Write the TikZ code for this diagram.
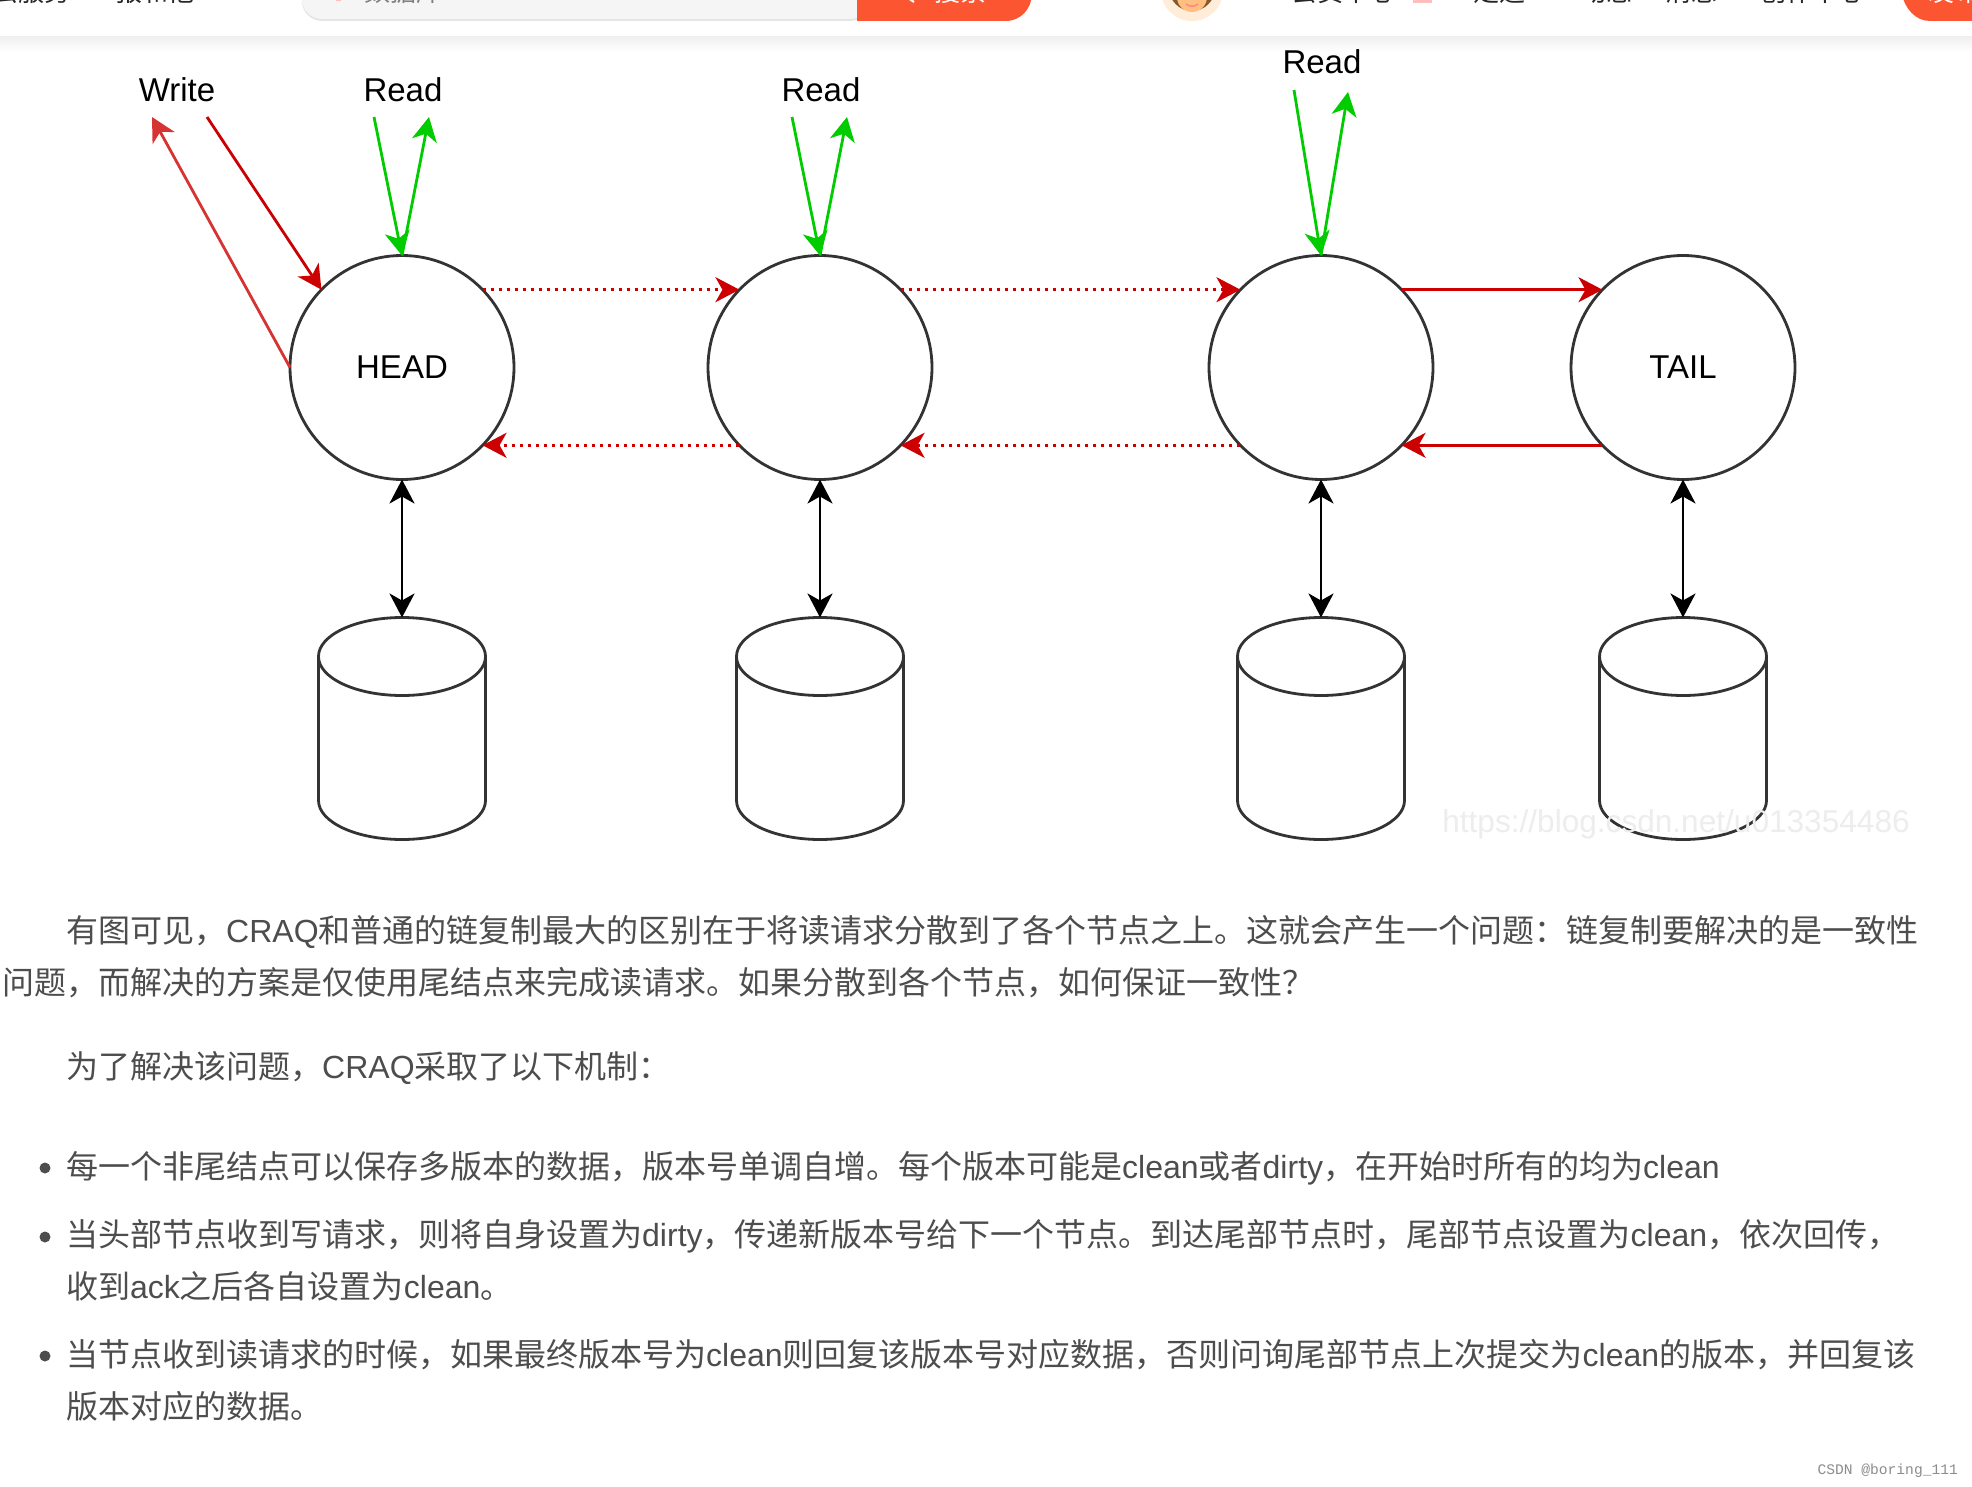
\documentclass[tikz,border=0pt]{standalone}
\usepackage{fontspec}
\setmainfont{Liberation Sans}
\newfontfamily\cjk{Noto Sans CJK SC}
\newfontfamily\wmfont{Liberation Mono}
\usetikzlibrary{arrows.meta}
\definecolor{redline}{HTML}{CC0000}
\definecolor{greenline}{HTML}{00CC00}
\definecolor{bodytext}{HTML}{4D4D4D}
\definecolor{csdnorange}{HTML}{FC5531}
\newcommand{\lat}[1]{{\rmfamily #1}}
\tikzset{
	chainnode/.style={circle, draw=black!80, line width=2.8pt, minimum size=224pt, inner sep=0pt, outer sep=0pt, font=\fontsize{33}{33}\selectfont},
	store/.style={rectangle, minimum width=167pt, minimum height=222pt, inner sep=0pt, outer sep=0pt},
	storeline/.style={draw=black!80, line width=2.8pt},
	request/.style={font=\fontsize{33}{33}\selectfont, inner sep=0pt},
	redarrow/.style={draw=redline, line width=2.8pt, -{Stealth[length=24pt,width=25pt,inset=7pt]}},
	redthin/.style={redarrow, draw=redline!80!white},
	reddots/.style={redarrow, dash pattern=on 3pt off 5pt},
	greenarrow/.style={draw=greenline, line width=2.8pt, -{Stealth[length=24pt,width=25pt,inset=7pt]}},
	dataarrow/.style={draw=black, line width=2.8pt, {Stealth[length=24pt,width=25pt,inset=7pt]}-{Stealth[length=24pt,width=25pt,inset=7pt]}},
	bodyline/.style={anchor=base west, inner sep=0pt, text=bodytext, font=\cjk\fontsize{32}{32}\selectfont},
	barline/.style={anchor=base west, inner sep=0pt, text=black!85, font=\cjk\fontsize{26}{26}\selectfont},
	dotitem/.style={circle, fill=bodytext, minimum size=11pt, inner sep=0pt}
}
\begin{document}
\begin{tikzpicture}[x=1pt,y=-1pt]
	\useasboundingbox (0,0) rectangle (1972,1487);
	\fill[white] (0,0) rectangle (1972,1487);

	%Top bar
	\shade[top color=black!6, bottom color=white] (0,37) rectangle (1972,52);
	\fill[black!10, rounded corners=20pt] (302,-40) rectangle (870,21);
	\fill[blue!2!black!4, rounded corners=20pt] (302,-40) rectangle (870,19);
	\fill[pink] (336,-2) rectangle (341,1);
	\fill[csdnorange] (857,-40) -- (857,21) -- (1005,21) .. controls (1022,21) and (1031,8) .. (1032,-5) -- (1032,-40) -- cycle;
	\fill[csdnorange] (1972,21) -- (1930,21) .. controls (1915,21) and (1905,8) .. (1902,-5) -- (1902,-40) -- (1972,-40) -- cycle;
	\fill[orange!15] (1192,-10) circle (31pt);
	\fill[brown!70!black] (1192,-12) circle (23pt);
	\fill[orange!50] (1192,-3) circle (15pt);
	\draw[pink!70!red, line width=1.5pt] (1186,4) .. controls (1189,7) and (1195,7) .. (1198,4);
	\fill[pink] (1413,-3) rectangle (1432,3);
	\draw[white, line width=2pt] (905,-4) -- (914,2);
	\node[barline] (svc) at (-8,2) {云服务};
	\node[barline] (news) at (116,2) {报和他};
	\node[barline, text=black!50] (hint) at (364,2) {数据库};
	\node[barline, text=white] (find) at (934,2) {搜索};
	\node[barline] (vip) at (1291,2) {会员中心};
	\node[barline] (trace) at (1473,2) {足迹};
	\node[barline] (feed) at (1580,2) {动态};
	\node[barline] (msg) at (1665,2) {消息};
	\node[barline] (make) at (1760,2) {创作中心};
	\node[barline, text=white] (post) at (1928,2) {发布};

	%Chain nodes
	\node[chainnode] (head) at (402,367.5) {HEAD};
	\node[chainnode] (mida) at (820,367.5) {};
	\node[chainnode] (midb) at (1321,367.5) {};
	\node[chainnode] (tail) at (1683,367.5) {TAIL};

	%Stores
	\node[store] (storea) at (402,728.5) {};
	\node[store] (storeb) at (820,728.5) {};
	\node[store] (storec) at (1321,728.5) {};
	\node[store] (stored) at (1683,728.5) {};
	\foreach \s in {storea,storeb,storec,stored}{
		\draw[storeline, shift={(\s.center)}] (0,-72) ellipse (83.5pt and 39pt);
		\draw[storeline, shift={(\s.center)}] (-83.5,-72) -- (-83.5,72) .. controls (-83.5,93.5) and (-46,111) .. (0,111) .. controls (46,111) and (83.5,93.5) .. (83.5,72) -- (83.5,-72);
	}

	\draw[dataarrow] (head.south) -- (storea.north);
	\draw[dataarrow] (mida.south) -- (storeb.north);
	\draw[dataarrow] (midb.south) -- (storec.north);
	\draw[dataarrow] (tail.south) -- (stored.north);

	%Requests
	\node[request] (write) at (177,90) {Write};
	\node[request] (reada) at (403,90) {Read};
	\node[request] (readb) at (821,90) {Read};
	\node[request] (readc) at (1322,62) {Read};

	\coordinate (wout) at (152,117);
	\coordinate (win) at (207,117);
	\coordinate (rain) at (374,117);
	\coordinate (raout) at (429,117);
	\coordinate (rbin) at (792,117);
	\coordinate (rbout) at (847,117);
	\coordinate (rcin) at (1294,90);
	\coordinate (rcout) at (1348,92);

	\draw[redthin] (head.west) -- (wout);
	\draw[redarrow] (win) -- (head.136);
	\draw[greenarrow] (rain) -- (head.north);
	\draw[greenarrow] (head.north) -- (raout);
	\draw[greenarrow] (rbin) -- (mida.north);
	\draw[greenarrow] (mida.north) -- (rbout);
	\draw[greenarrow] (rcin) -- (midb.north);
	\draw[greenarrow] (midb.north) -- (rcout);

	%Along the chain
	\draw[reddots] (head.44) -- (mida.136);
	\draw[reddots] (mida.44) -- (midb.136);
	\draw[redarrow] (midb.44) -- (tail.136);
	\draw[redarrow] (tail.-136) -- (midb.-44);
	\draw[reddots] (midb.-136) -- (mida.-44);
	\draw[reddots] (mida.-136) -- (head.-44);

	\node[inner sep=0pt, text=black!7, font=\fontsize{31.6}{32}\selectfont] (mark) at (1676,824) {https://blog.csdn.net/u013354486};

	%Text lines
	\node[bodyline] (la) at (66,942) {有图可见，\lat{CRAQ}和普通的链复制最大的区别在于将读请求分散到了各个节点之上。这就会产生一个问题：链复制要解决的是一致性};
	\node[bodyline] (lb) at (2,994) {问题，而解决的方案是仅使用尾结点来完成读请求。如果分散到各个节点，如何保证一致性？};
	\node[bodyline] (lc) at (66,1078) {为了解决该问题，\lat{CRAQ}采取了以下机制：};
	\node[bodyline] (ld) at (66,1178) {每一个非尾结点可以保存多版本的数据，版本号单调自增。每个版本可能是\lat{clean}或者\lat{dirty}，在开始时所有的均为\lat{clean}};
	\node[bodyline] (le) at (66,1246) {当头部节点收到写请求，则将自身设置为\lat{dirty}，传递新版本号给下一个节点。到达尾部节点时，尾部节点设置为\lat{clean}，依次回传，};
	\node[bodyline] (lf) at (66,1298) {收到\lat{ack}之后各自设置为\lat{clean}。};
	\node[bodyline] (lg) at (66,1366) {当节点收到读请求的时候，如果最终版本号为\lat{clean}则回复该版本号对应数据，否则问询尾部节点上次提交为\lat{clean}的版本，并回复该};
	\node[bodyline] (lh) at (66,1418) {版本对应的数据。};
	\node[dotitem] (da) at (45,1168) {};
	\node[dotitem] (db) at (45,1237) {};
	\node[dotitem] (dc) at (45,1356) {};

	\node[anchor=base east, inner sep=0pt, text=black!45, font=\wmfont\fontsize{14.6}{14.6}\selectfont] (csdn) at (1958,1474) {CSDN @boring\_111};
\end{tikzpicture}
\end{document}
